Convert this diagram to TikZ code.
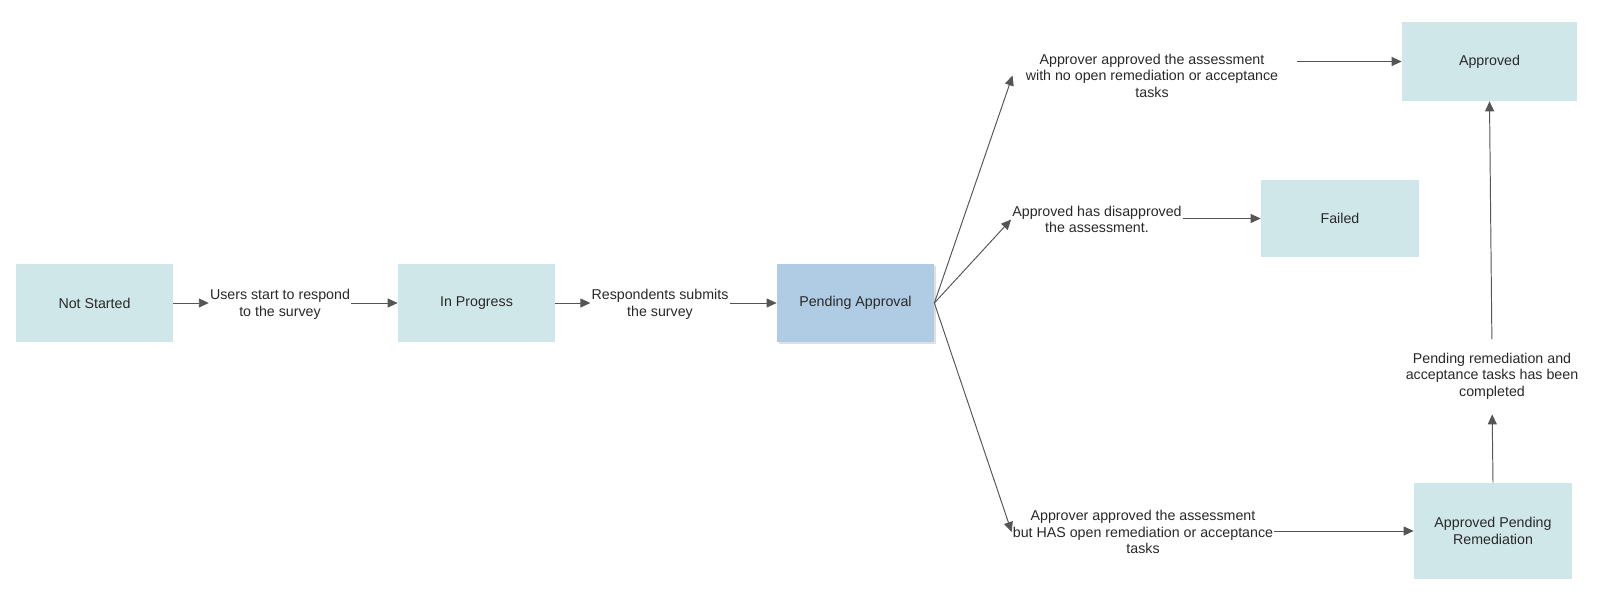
\documentclass[tikz,border=0pt]{standalone}
\usepackage{fontspec}
\setmainfont{Liberation Sans}
\usepackage{tikz}
\usetikzlibrary{arrows.meta, shadows}
\definecolor{boxteal}{RGB}{208,231,234}
\definecolor{boxblue}{RGB}{176,204,228}
\definecolor{linegray}{RGB}{85,85,85}
\definecolor{textgray}{RGB}{40,40,40}

\begin{document}
\begin{tikzpicture}[x=0.02cm, y=-0.02cm,
    state/.style={fill=boxteal, minimum width=3.14cm, minimum height=1.58cm, inner sep=0pt,
        align=center, text=textgray, font=\fontsize{8.1}{9.4}\selectfont},
    note/.style={align=center, inner sep=0.5pt, text=textgray, font=\fontsize{8.1}{9.4}\selectfont},
    arr/.style={-{Triangle[length=0.2cm, width=0.18cm]}, draw=linegray, line width=0.55pt}]
    \useasboundingbox (0,0) rectangle (1600,602);
    % estados
    \node[state] (ns) at (94.5,303) {Not Started};
    \node[state] (ip) at (476.5,303) {In Progress};
    \node[state, fill=boxblue, drop shadow={shadow xshift=0.04cm, shadow yshift=-0.04cm, opacity=0.25}]
        (pa) at (855.5,303) {Pending Approval};
    \node[state, minimum width=3.5cm] (ok) at (1489.5,61.5) {Approved};
    \node[state, minimum width=3.16cm, minimum height=1.54cm] (fail) at (1340,218.5) {Failed};
    \node[state, minimum width=3.16cm, minimum height=1.92cm] (apr) at (1493,531) {Approved Pending\\Remediation};
    % textos de transicion
    \node[note] (usr) at (280,304.5) {Users start to respond\\to the survey};
    \node[note] (sub) at (660,304.5) {Respondents submits\\the survey};
    \node[note] (okn) at (1152,75.5) {Approver approved the assessment\\with no open remediation or acceptance\\tasks};
    \node[note] (dis) at (1097,219.5) {Approved has disapproved\\the assessment.};
    \node[note] (has) at (1143,532) {Approver approved the assessment\\but HAS open remediation or acceptance\\tasks};
    \node[note] (done) at (1492,376) {Pending remediation and\\acceptance tasks has been\\completed};
    % flechas
    \draw[arr] (ns.east) -- (usr.west |- ns.east);
    \draw[arr] (usr.east |- ip.west) -- (ip.west);
    \draw[arr] (ip.east) -- (sub.west |- ip.east);
    \draw[arr] (sub.east |- pa.west) -- (pa.west);
    \draw[arr] (pa.east) -- ([xshift=-0.24cm]okn.west);
    \draw[arr] (pa.east) -- (dis.west);
    \draw[arr] (pa.east) -- (has.west);
    \draw[arr] ([xshift=0.35cm]okn.east |- ok.west) -- (ok.west);
    \draw[arr] (dis.east |- fail.west) -- (fail.west);
    \draw[arr] (has.east |- apr.west) -- (apr.west);
    \draw[arr, shorten >=0.28cm] (apr.north) -- (done.south);
    \draw[arr, shorten <=0.25cm] (done.north) -- (ok.south);
\end{tikzpicture}
\end{document}
